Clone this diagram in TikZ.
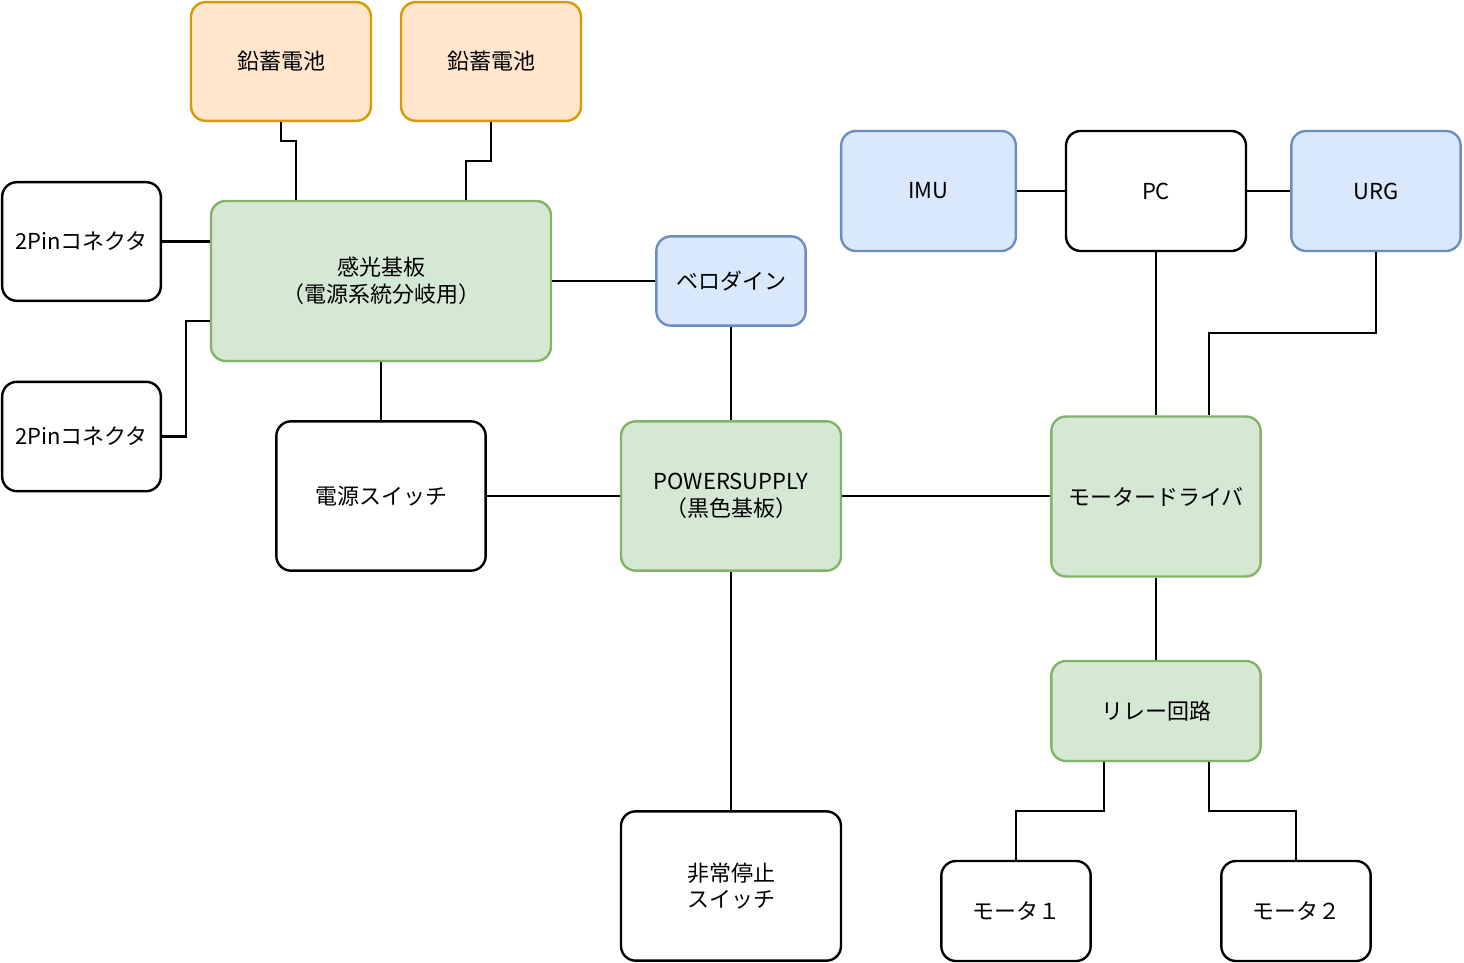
\documentclass[tikz,border=0pt]{standalone}
\usepackage{fontspec}
\setmainfont{Noto Sans CJK JP}
\begin{document}
\definecolor{ofill}{HTML}{FFE6CC}\definecolor{oline}{HTML}{D79B00}
\definecolor{gfill}{HTML}{D5E8D4}\definecolor{gline}{HTML}{82B366}
\definecolor{bfill}{HTML}{DAE8FC}\definecolor{bline}{HTML}{6C8EBF}
\begin{tikzpicture}[x=0.75pt,y=-0.75pt,
 box/.style={draw,line width=1.8pt,rounded corners=11pt,align=center,inner sep=0pt,font=\fontsize{16.5}{20}\selectfont},
 wb/.style={box,draw=black,fill=white},
 ob/.style={box,draw=oline,fill=ofill},
 gb/.style={box,draw=gline,fill=gfill},
 bb/.style={box,draw=bline,fill=bfill},
 ln/.style={line width=1.6pt}]
\useasboundingbox (0,0) rectangle (1464,963);
\def\bx#1#2#3#4#5#6#7{\node[#1,minimum width=#4*0.75pt,minimum height=#5*0.75pt] (#2) at (#3) {#7};}
\node[ob,minimum width=135pt,minimum height=89pt] (bat1) at (281,61.5) {鉛蓄電池};
\node[ob,minimum width=135pt,minimum height=89pt] (bat2) at (491,61.5) {鉛蓄電池};
\node[wb,minimum width=119pt,minimum height=89pt] (pin1) at (81.5,241.5) {2Pinコネクタ};
\node[wb,minimum width=119pt,minimum height=82pt] (pin2) at (81.5,436.5) {2Pinコネクタ};
\node[gb,minimum width=255pt,minimum height=120pt] (kanko) at (381,281) {感光基板\\（電源系統分岐用）};
\node[bb,minimum width=112pt,minimum height=67pt] (velo) at (731,281) {ベロダイン};
\node[bb,minimum width=131pt,minimum height=90pt] (imu) at (928.5,191) {IMU};
\node[wb,minimum width=135pt,minimum height=90pt] (pc) at (1156,191) {PC};
\node[bb,minimum width=127pt,minimum height=90pt] (urg) at (1376,191) {URG};
\node[wb,minimum width=157pt,minimum height=112pt] (sw) at (381,496) {電源スイッチ};
\node[gb,minimum width=165pt,minimum height=112pt] (ps) at (731,496) {POWERSUPPLY\\（黒色基板）};
\node[gb,minimum width=157pt,minimum height=120pt] (md) at (1156,496.5) {モータードライバ};
\node[gb,minimum width=157pt,minimum height=75pt] (relay) at (1156,711) {リレー回路};
\node[wb,minimum width=165pt,minimum height=112pt] (em) at (731,886) {非常停止\\スイッチ};
\node[wb,minimum width=112pt,minimum height=75pt] (m1) at (1016,911) {モータ１};
\node[wb,minimum width=112pt,minimum height=75pt] (m2) at (1296,911) {モータ２};
\coordinate (c1) at (296,141);\coordinate (c2) at (466,161);
\draw[ln] (bat1.south) |- (c1) -- (c1 |- kanko.north);
\draw[ln] (bat2.south) |- (c2) -- (c2 |- kanko.north);
\draw[ln] (pin1.east) -- (pin1.east -| kanko.west);
\coordinate (c3) at (186,321);
\draw[ln] (pin2.east) -| (c3) -- (c3 -| kanko.west);
\draw[ln] (kanko.east) -- (velo.west);
\draw[ln] (kanko.south) -- (sw.north);
\draw[ln] (velo.south) -- (ps.north);
\draw[ln] (sw.east) -- (ps.west);
\draw[ln] (ps.east) -- (md.west |- ps.east);
\draw[ln] (ps.south) -- (em.north);
\draw[ln] (imu.east) -- (pc.west);
\draw[ln] (pc.east) -- (urg.west);
\draw[ln] (pc.south) -- (md.north);
\coordinate (c4) at (1209,333);
\draw[ln] (urg.south) |- (c4) -- (c4 |- md.north);
\draw[ln] (md.south) -- (relay.north);
\coordinate (c5) at (1104,811);\coordinate (c6) at (1209,811);
\draw[ln] (c5 |- relay.south) -- (c5) -| (m1.north);
\draw[ln] (c6 |- relay.south) -- (c6) -| (m2.north);
\end{tikzpicture}
\end{document}
